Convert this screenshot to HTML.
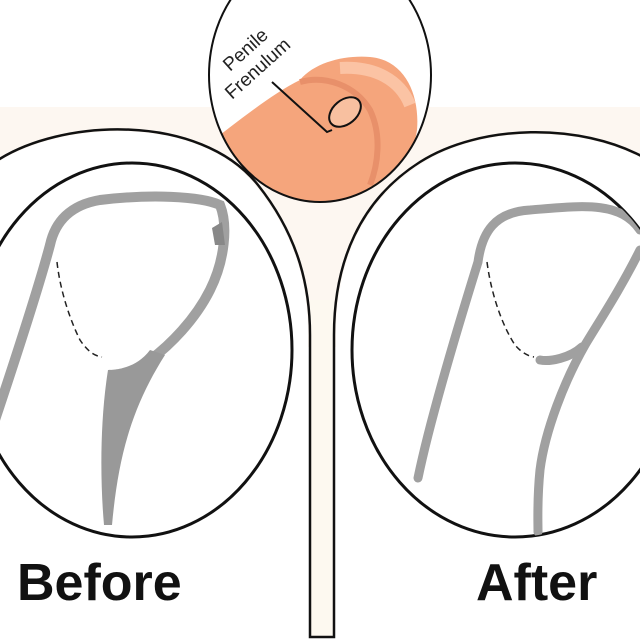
<!DOCTYPE html>
<html><head><meta charset="utf-8"><style>
html,body{margin:0;padding:0;background:#fff;width:640px;height:640px;overflow:hidden}
svg{display:block}
</style></head><body>
<svg width="640" height="640" viewBox="0 0 640 640" xmlns="http://www.w3.org/2000/svg">
<defs>
<clipPath id="mag"><ellipse cx="320" cy="75" rx="111" ry="127"/></clipPath>
<clipPath id="lc"><ellipse cx="132" cy="350" rx="160" ry="187"/></clipPath>
<clipPath id="rc"><ellipse cx="515" cy="350" rx="163" ry="187"/></clipPath>
</defs>
<rect x="0" y="107" width="640" height="240" fill="#fdf7f1"/>
<rect x="310" y="300" width="24" height="337" fill="#fdf9f0"/>
<!-- outer arches -->
<path d="M-5,162 C60,118 200,112 258,185 C300,238 310,290 310,335 L310,637 L334,637 L334,335 C334,262 360,200 420,162 C480,124 580,122 645,158" fill="none" stroke="#111" stroke-width="2.5"/>
<path d="M-5,164 C60,120 200,114 256,186 C298,238 308,290 308,335 L308,645 L-5,645 Z" fill="#fff"/>
<path d="M336,335 C336,262 362,202 421,164 C480,126 580,124 645,160 L645,645 L336,645 Z" fill="#fff"/>
<!-- inner circles -->
<ellipse cx="132" cy="350" rx="160" ry="187" fill="#fff" stroke="#111" stroke-width="3"/>
<ellipse cx="515" cy="350" rx="163" ry="187" fill="#fff" stroke="#111" stroke-width="3"/>
<!-- left drawing -->
<g clip-path="url(#lc)" fill="none" stroke="#a0a0a0" stroke-width="10" stroke-linecap="round">
<path d="M-5,420 C15,360 38,290 50,245 C55,222 70,205 100,200 C150,194 200,196 220,205 C228,225 225,260 210,290 C195,320 170,345 150,360"/>
</g>
<path d="M150,350 C135,370 112,370 108,370 C100,420 100,480 104,525 L112,525 C118,460 130,410 165,355 Z" fill="#999"/>
<path d="M212,228 L222,222 L225,245 L215,245 Z" fill="#888"/>
<path d="M57,262 C60,290 70,320 80,340 C88,352 95,356 102,357" fill="none" stroke="#222" stroke-width="1.5" stroke-dasharray="6,4"/>
<!-- right drawing -->
<g clip-path="url(#rc)" fill="none" stroke="#a0a0a0" stroke-width="9" stroke-linecap="round">
<path d="M418,478 C430,420 460,320 478,262 C482,232 495,212 530,210 C580,206 620,200 640,230"/>
<path d="M640,250 C620,290 600,320 585,345 C565,380 545,430 540,470 C537,500 538,520 538,532"/>
<path d="M582,347 C570,358 550,362 540,360"/>
</g>
<path d="M487,262 C492,300 505,330 515,345 C522,353 528,356 534,357" fill="none" stroke="#222" stroke-width="1.5" stroke-dasharray="6,4"/>
<!-- magnifier -->
<ellipse cx="320" cy="75" rx="111" ry="127" fill="#fff"/>
<g clip-path="url(#mag)">
<path d="M200,150 C240,120 270,95 300,80 C315,62 345,55 370,57 C405,60 420,95 417,130 C412,165 395,185 370,195 C340,205 300,210 260,205 C230,200 210,185 200,170 Z" fill="#f5a57c"/>
<path d="M300,82 C325,75 355,85 370,110 C382,135 378,165 370,185" fill="none" stroke="#e8906a" stroke-width="6"/>
<path d="M340,68 C375,66 400,80 410,105" fill="none" stroke="#fbc3a4" stroke-width="12"/>
</g>
<ellipse cx="320" cy="75" rx="111" ry="127" fill="none" stroke="#111" stroke-width="2"/>
<ellipse cx="345" cy="112" rx="18" ry="12" transform="rotate(-40 345 112)" fill="#f8c0a0" stroke="#111" stroke-width="2"/>
<path d="M272,82 L327,132 L332,130" fill="none" stroke="#111" stroke-width="2"/>
<g font-family="Liberation Sans, sans-serif" font-size="19" fill="#222">
<text x="0" y="0" transform="translate(230,72) rotate(-42)">Penile</text>
<text x="0" y="0" transform="translate(232,100) rotate(-42)">Frenulum</text>
</g>
<g font-family="Liberation Sans, sans-serif" font-weight="bold" font-size="52" fill="#111">
<text x="17" y="600">Before</text>
<text x="476" y="600">After</text>
</g>
</svg>
</body></html>
